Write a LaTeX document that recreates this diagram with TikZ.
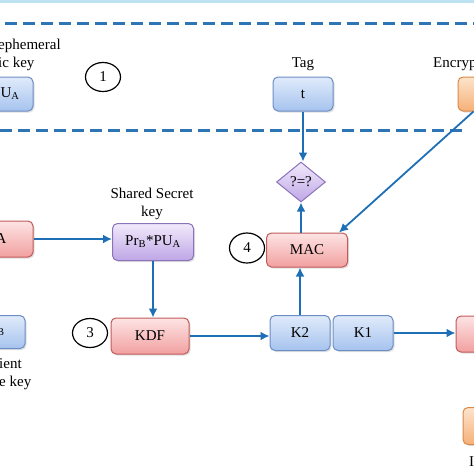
\documentclass[tikz,border=0pt]{standalone}
\usepackage{fontspec}
\setmainfont{Liberation Serif}
\usepackage{tikz}
\usetikzlibrary{arrows.meta,positioning,shapes.geometric,shadows}
\definecolor{linkblue}{RGB}{30,111,181}
\definecolor{dashblue}{RGB}{46,117,182}
\definecolor{bandblue}{RGB}{189,226,242}
\definecolor{bluetop}{RGB}{224,235,251}
\definecolor{bluebot}{RGB}{166,195,238}
\definecolor{blueedge}{RGB}{109,141,197}
\definecolor{redtop}{RGB}{253,228,228}
\definecolor{redbot}{RGB}{242,160,160}
\definecolor{rededge}{RGB}{194,90,90}
\definecolor{purptop}{RGB}{242,234,251}
\definecolor{purpbot}{RGB}{190,166,230}
\definecolor{purpedge}{RGB}{139,115,186}
\definecolor{orngtop}{RGB}{253,228,204}
\definecolor{orngbot}{RGB}{246,176,120}
\definecolor{orngedge}{RGB}{217,138,74}

\begin{document}
\begin{tikzpicture}[
  x=1pt, y=-1pt,
  font=\fontsize{15pt}{18pt}\selectfont,
  keybox/.style={rectangle, rounded corners=5pt, line width=1pt, inner sep=0pt, minimum height=34pt, minimum width=60pt,
    drop shadow={shadow xshift=1.5pt, shadow yshift=-1.5pt, opacity=0.25}},
  bluebox/.style={keybox, draw=blueedge, top color=bluetop, bottom color=bluebot},
  redbox/.style={keybox, draw=rededge, top color=redtop, bottom color=redbot},
  purpbox/.style={keybox, draw=purpedge, top color=purptop, bottom color=purpbot},
  orngbox/.style={keybox, draw=orngedge, top color=orngtop, bottom color=orngbot},
  cmpbox/.style={diamond, draw=purpedge, line width=1pt, top color=purptop, bottom color=purpbot, inner sep=0pt, minimum width=49pt, minimum height=40pt},
  stepnum/.style={ellipse, draw=black, line width=1.2pt, minimum width=35pt, minimum height=29pt, inner sep=0pt},
  caption/.style={align=center, inner sep=0pt},
  arr/.style={-{Latex[length=9pt, width=9pt]}, line width=1.8pt, draw=linkblue},
  zone/.style={dashblue, line width=3pt, dash pattern=on 12pt off 6pt}
]
\useasboundingbox (0,0) rectangle (474,474);
\clip (0,0) rectangle (474,474);

% zone borders
\fill[bandblue] (0,0) rectangle (474,2.5);
\draw[zone] (5,23) -- (474,23);
\draw[zone] (0,130) -- (466,130);

% top zone
\node[caption, align=left, anchor=west] (ephtxt) at (-2,55) {ephemeral\\ic key};
\node[bluebox, minimum width=46pt] (ephkey) at (10,94) {U\textsubscript{A}};
\node[stepnum] (s1) at (103,77) {1};
\node[caption] (tagtxt) at (303,64) {Tag};
\node[bluebox] (tag) at (303,94) {t};
\node[caption, anchor=west] (enctxt) at (433,64) {Encryp};
\node[orngbox] (enc) at (488,94) {};

% receiver side
\node[redbox, minimum width=64pt, minimum height=36pt] (pubin) at (1,239) {A};
\node[caption] (shtxt) at (152,204) {Shared Secret\\key};
\node[purpbox, minimum width=81pt, minimum height=37pt] (shared) at (153,242) {Pr\textsubscript{B}*PU\textsubscript{A}};
\node[bluebox, minimum width=48pt, minimum height=33pt] (privkey) at (1,332) {\textsubscript{B}};
\node[caption, align=left, anchor=west] (privtxt) at (-1,374) {ient\\e key};
\node[stepnum] (s3) at (90,333) {3};
\node[redbox, minimum width=78pt, minimum height=36pt] (kdf) at (150,336) {KDF};
\node[bluebox, minimum height=35pt] (k2) at (300,333) {K2};
\node[bluebox, minimum height=35pt] (k1) at (363,333) {K1};
\node[redbox, minimum height=36pt] (encfn) at (486,334) {};
\node[orngbox, minimum height=37pt] (ivbox) at (493,426) {};
\node[caption, anchor=west] (ivtxt) at (469,462) {I};
\node[stepnum, minimum height=30pt] (s4) at (247,248) {4};
\node[redbox, minimum width=81pt] (mac) at (307,250) {MAC};
\node[cmpbox] (cmp) at (301,182) {?=?};

\draw[arr] (tag.south) -- (tag.south |- cmp.north);
\draw[arr] (cmp.south |- mac.north) -- (cmp.south);
\draw[arr] (k2.north) -- (k2.north |- mac.south);
\draw[arr] ([xshift=16pt]enc.south west) -- ([xshift=-9pt]mac.north east);
\draw[arr] (pubin.east) -- (pubin.east -| shared.west);
\draw[arr] (shared.south) -- (shared.south |- kdf.north);
\draw[arr] (kdf.east) -- (kdf.east -| k2.west);
\draw[arr] (k1.east) -- (k1.east -| encfn.west);
\end{tikzpicture}
\end{document}
